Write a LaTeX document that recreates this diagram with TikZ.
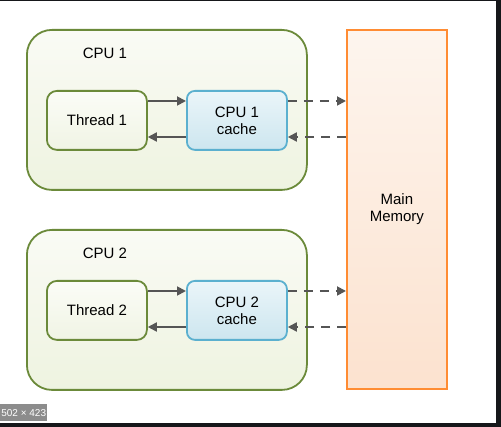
\documentclass[tikz,border=0pt]{standalone}
\usepackage{fontspec}
\setmainfont{Liberation Sans}
\usetikzlibrary{arrows.meta}
\definecolor{olive}{HTML}{6B8A3A}
\definecolor{cyanb}{HTML}{5BB0CF}
\definecolor{orng}{HTML}{FF8C33}
\definecolor{arr}{HTML}{555555}
\definecolor{dark}{HTML}{16171A}
\definecolor{cputop}{HTML}{FAFBF5}
\definecolor{cpubot}{HTML}{EEF3E0}
\definecolor{thtop}{HTML}{FBFCF7}
\definecolor{thbot}{HTML}{F0F4E4}
\definecolor{catop}{HTML}{EAF5F9}
\definecolor{cabot}{HTML}{CDE6EF}
\definecolor{metop}{HTML}{FDF5EE}
\definecolor{mebot}{HTML}{FCE2CF}
\tikzset{
  txt/.style={font=\fontsize{15}{17}\selectfont},
  cpubox/.style={draw=olive, line width=1.8pt, rounded corners=25pt, top color=cputop, bottom color=cpubot},
  threadbox/.style={draw=olive, line width=1.8pt, rounded corners=10pt, top color=thtop, bottom color=thbot, txt},
  cachebox/.style={draw=cyanb, line width=1.8pt, rounded corners=8pt, top color=catop, bottom color=cabot, align=center, txt},
  membox/.style={draw=orng, line width=1.8pt, top color=metop, bottom color=mebot, align=center, txt},
  solidarrow/.style={draw=arr, line width=1.8pt, -{Triangle[length=9pt,width=9pt]}},
  dasharrow/.style={draw=arr, line width=1.8pt, dash pattern=on 9pt off 7pt, -{Triangle[length=9pt,width=9pt]}},
}
\begin{document}
\begin{tikzpicture}[x=1pt,y=-1pt]
\useasboundingbox (0,0) rectangle (501,427);
\fill[white] (0,0) rectangle (501,427);
% frame of screenshot
\fill[dark] (0,0) rectangle (501,1.3);
\fill[dark] (496,0) rectangle (501,427);
\fill[dark] (0,423) rectangle (501,427);
% CPU 1
\node[cpubox, minimum width=280pt, minimum height=160pt, anchor=north west] (cpu1) at (26,29) {};
\node[txt] (cpu1l) at (105,53) {CPU 1};
\node[threadbox, minimum width=100pt, minimum height=59pt, anchor=north west] (t1) at (46,90) {Thread 1};
\node[cachebox, minimum width=100pt, minimum height=59pt, anchor=north west] (c1) at (186,90) {CPU 1\\cache};
% CPU 2
\node[cpubox, minimum width=280pt, minimum height=160pt, anchor=north west] (cpu2) at (26,229) {};
\node[txt] (cpu2l) at (105,253) {CPU 2};
\node[threadbox, minimum width=100pt, minimum height=59pt, anchor=north west] (t2) at (46,280) {Thread 2};
\node[cachebox, minimum width=100pt, minimum height=59pt, anchor=north west] (c2) at (186,280) {CPU 2\\cache};
% Main memory
\node[membox, minimum width=100pt, minimum height=359pt, anchor=north west] (mem) at (346,29) {Main\\Memory};
% arrows
\draw[solidarrow] (t1.east |- 0,101) -- (c1.west |- 0,101);
\draw[solidarrow] (c1.west |- 0,137) -- (t1.east |- 0,137);
\draw[dasharrow] (c1.east |- 0,101) -- (mem.west |- 0,101);
\draw[dasharrow] (mem.west |- 0,137) -- (c1.east |- 0,137);
\draw[solidarrow] (t2.east |- 0,291) -- (c2.west |- 0,291);
\draw[solidarrow] (c2.west |- 0,327) -- (t2.east |- 0,327);
\draw[dasharrow] (c2.east |- 0,291) -- (mem.west |- 0,291);
\draw[dasharrow] (mem.west |- 0,327) -- (c2.east |- 0,327);
% badge
\node[fill=black!45, text=white, inner sep=0pt, minimum width=47pt, minimum height=17pt, anchor=north west, font=\fontsize{10}{11}\selectfont] (badge) at (0,404) {502 × 423};
\end{tikzpicture}
\end{document}
